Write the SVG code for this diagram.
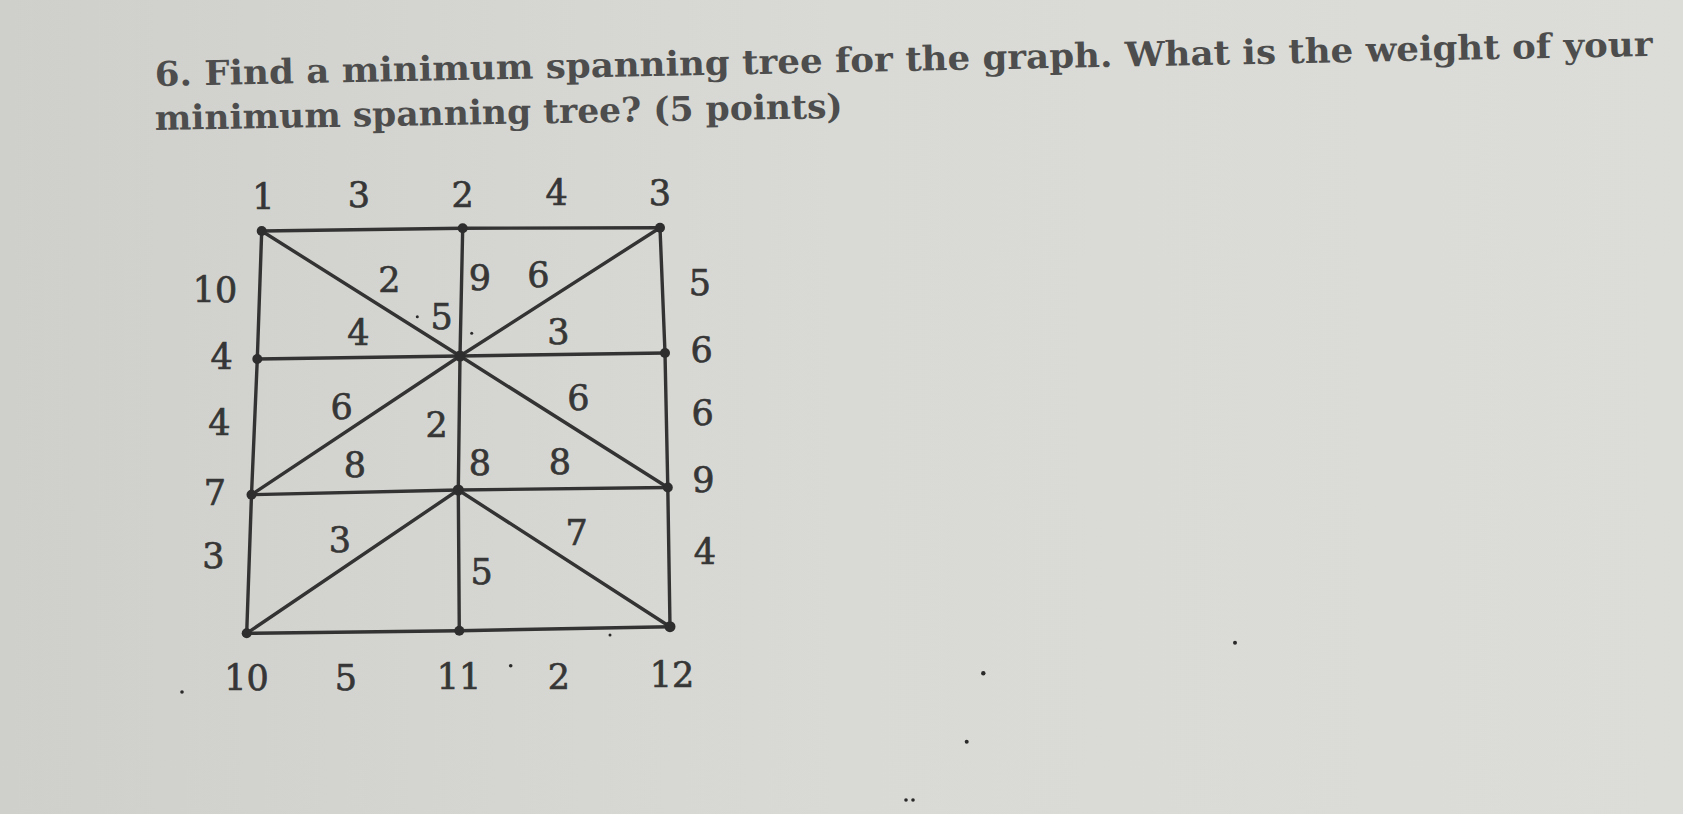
<svg xmlns="http://www.w3.org/2000/svg" width="1683" height="814" viewBox="0 0 1683 814">
<style>
.edge{stroke:#333333;stroke-width:3.4;stroke-linecap:round;fill:none}
.dot{fill:#2e2e2e}
.lbl{font-family:"DejaVu Serif","Liberation Serif",serif;font-size:35px;fill:#363636;stroke:#363636;stroke-width:0.7;text-anchor:middle}
.title{font-family:"DejaVu Serif","Liberation Serif",serif;font-size:34px;font-weight:bold;fill:#4d4d4d}
.speck{fill:#2a2a2a}
</style>
<defs>
<linearGradient id="paper" x1="0" y1="0" x2="1" y2="0">
<stop offset="0" stop-color="#cfd0cb"/>
<stop offset="0.5" stop-color="#d9dad5"/>
<stop offset="1" stop-color="#dcddd8"/>
</linearGradient>
</defs>
<rect x="0" y="0" width="1683" height="814" fill="url(#paper)"/>

<g id="title">
<text class="title" x="155" y="86" transform="rotate(-1.15 155 86)" textLength="1498" lengthAdjust="spacingAndGlyphs">6.  Find a minimum spanning tree for the graph.  What is the weight of your</text>
<text class="title" x="155" y="130" transform="rotate(-1 155 130)" textLength="688" lengthAdjust="spacingAndGlyphs">minimum spanning tree? (5 points)</text>
</g>

<g id="connectors">
<line class="edge" x1="261.7" y1="231" x2="462.7" y2="228.3"/>
<line class="edge" x1="462.7" y1="228.3" x2="660" y2="227.7"/>
<line class="edge" x1="257.3" y1="359" x2="460" y2="356"/>
<line class="edge" x1="460" y1="356" x2="665" y2="353"/>
<line class="edge" x1="251.5" y1="494.7" x2="458.3" y2="490"/>
<line class="edge" x1="458.3" y1="490" x2="667.8" y2="487.5"/>
<line class="edge" x1="246.7" y1="633.3" x2="459.3" y2="630.7"/>
<line class="edge" x1="459.3" y1="630.7" x2="670" y2="626.7"/>
<line class="edge" x1="261.7" y1="231" x2="257.3" y2="359"/>
<line class="edge" x1="257.3" y1="359" x2="251.5" y2="494.7"/>
<line class="edge" x1="251.5" y1="494.7" x2="246.7" y2="633.3"/>
<line class="edge" x1="462.7" y1="228.3" x2="460" y2="356"/>
<line class="edge" x1="460" y1="356" x2="458.3" y2="490"/>
<line class="edge" x1="458.3" y1="490" x2="459.3" y2="630.7"/>
<line class="edge" x1="660" y1="227.7" x2="665" y2="353"/>
<line class="edge" x1="665" y1="353" x2="667.8" y2="487.5"/>
<line class="edge" x1="667.8" y1="487.5" x2="670" y2="626.7"/>
<line class="edge" x1="261.7" y1="231" x2="460" y2="356"/>
<line class="edge" x1="660" y1="227.7" x2="460" y2="356"/>
<line class="edge" x1="460" y1="356" x2="251.5" y2="494.7"/>
<line class="edge" x1="460" y1="356" x2="667.8" y2="487.5"/>
<line class="edge" x1="458.3" y1="490" x2="246.7" y2="633.3"/>
<line class="edge" x1="458.3" y1="490" x2="670" y2="626.7"/>
</g>

<g id="weights">
<text class="lbl" x="359" y="207">3</text>
<text class="lbl" x="556.7" y="205">4</text>
<text class="lbl" x="215" y="302">10</text>
<text class="lbl" x="219.3" y="435">4</text>
<text class="lbl" x="213.3" y="568">3</text>
<text class="lbl" x="700" y="295">5</text>
<text class="lbl" x="702.7" y="425">6</text>
<text class="lbl" x="705" y="564">4</text>
<text class="lbl" x="346" y="690">5</text>
<text class="lbl" x="559" y="689">2</text>
<text class="lbl" x="389.3" y="292">2</text>
<text class="lbl" x="480" y="290">9</text>
<text class="lbl" x="538.3" y="287">6</text>
<text class="lbl" x="358.3" y="345">4</text>
<text class="lbl" x="558.3" y="344">3</text>
<text class="lbl" x="341.7" y="419">6</text>
<text class="lbl" x="436.7" y="437">2</text>
<text class="lbl" x="578.3" y="410">6</text>
<text class="lbl" x="355" y="477">8</text>
<text class="lbl" x="560" y="474">8</text>
<text class="lbl" x="340" y="552">3</text>
<text class="lbl" x="576.7" y="545">7</text>
<text class="lbl" x="481.7" y="584">5</text>
</g>

<g id="node1"><circle class="dot" cx="261.7" cy="231" r="5"/><text class="lbl" x="263.3" y="209">1</text></g>
<g id="node2"><circle class="dot" cx="462.7" cy="228.3" r="5"/><text class="lbl" x="462.7" y="207">2</text></g>
<g id="node3"><circle class="dot" cx="660" cy="227.7" r="5"/><text class="lbl" x="660" y="205">3</text></g>
<g id="node4"><circle class="dot" cx="257.3" cy="359" r="5"/><text class="lbl" x="221.7" y="369">4</text></g>
<g id="node5"><circle class="dot" cx="460" cy="356" r="5.5"/><text class="lbl" x="441.7" y="329">5</text></g>
<g id="node6"><circle class="dot" cx="665" cy="353" r="5"/><text class="lbl" x="701.7" y="362">6</text></g>
<g id="node7"><circle class="dot" cx="251.5" cy="494.7" r="5"/><text class="lbl" x="215" y="505">7</text></g>
<g id="node8"><circle class="dot" cx="458.3" cy="490" r="5.5"/><text class="lbl" x="480" y="475">8</text></g>
<g id="node9"><circle class="dot" cx="667.8" cy="487.5" r="5"/><text class="lbl" x="703.3" y="492">9</text></g>
<g id="node10"><circle class="dot" cx="246.7" cy="633.3" r="5"/><text class="lbl" x="246.5" y="690">10</text></g>
<g id="node11"><circle class="dot" cx="459.3" cy="630.7" r="5"/><text class="lbl" x="459" y="689">11</text></g>
<g id="node12"><circle class="dot" cx="670" cy="626.7" r="5.5"/><text class="lbl" x="672" y="687">12</text></g>

<g id="specks">
<circle class="speck" cx="417.3" cy="316.7" r="1.5"/>
<circle class="speck" cx="471.7" cy="333.3" r="1.5"/>
<circle class="speck" cx="610" cy="635" r="1.5"/>
<circle class="speck" cx="510.7" cy="665.7" r="1.8"/>
<circle class="speck" cx="182" cy="692" r="1.8"/>
<circle class="speck" cx="983.3" cy="673.3" r="2.2"/>
<circle class="speck" cx="966.7" cy="741.7" r="2"/>
<circle class="speck" cx="1235" cy="642.7" r="2"/>
<circle class="speck" cx="906" cy="800" r="1.8"/>
<circle class="speck" cx="913" cy="800" r="1.8"/>
</g>
</svg>
